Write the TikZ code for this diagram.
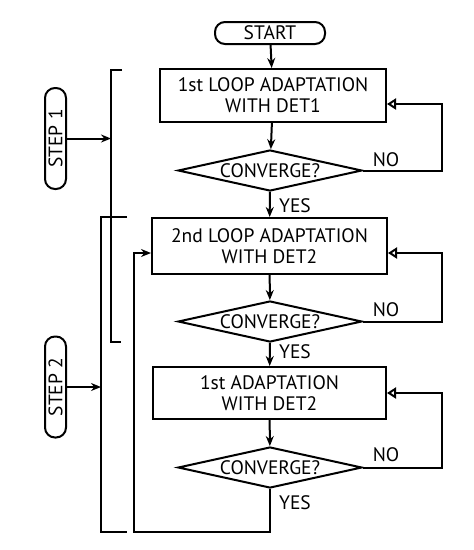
\documentclass[tikz,border=0pt]{standalone}
\usepackage{fontspec}
\setmainfont{PT Sans}
\usetikzlibrary{shapes.geometric,arrows.meta}
\begin{document}
\begin{tikzpicture}[x=1pt,y=-1pt,
  line width=2pt,
  every node/.style={font=\fontsize{19.5}{21}\selectfont},
  box/.style={draw,rectangle,inner sep=0pt,align=center},
  dia/.style={draw,diamond,aspect=4.5,inner sep=0pt,minimum width=184pt,minimum height=41pt},
  pill/.style={draw,rectangle,rounded corners=10pt,inner sep=0pt},
  lbl/.style={inner sep=0pt},
  arr/.style={-{Stealth[length=10pt,width=8pt]}},
  oarr/.style={-{Triangle[open,length=9pt,width=11pt]}}
]
\useasboundingbox (0,0) rectangle (474,550);
\node[pill,minimum width=110pt,minimum height=22pt] (start) at (270,33) {START};
\node[box,minimum width=226pt,minimum height=53pt] (b1) at (273,95.5) {1st LOOP ADAPTATION\\WITH DET1};
\node[dia] (d1) at (270,170.5) {CONVERGE?};
\node[box,minimum width=235pt,minimum height=56pt] (b2) at (269.5,246) {2nd LOOP ADAPTATION\\WITH DET2};
\node[dia] (d2) at (270,321.5) {CONVERGE?};
\node[box,minimum width=233pt,minimum height=52pt] (b3) at (269.5,393) {1st ADAPTATION\\WITH DET2};
\node[dia] (d3) at (270,467.5) {CONVERGE?};

\node[pill,rotate=90,minimum width=101pt,minimum height=21pt] (s1) at (55.5,138.5) {STEP 1};
\node[pill,rotate=90,minimum width=101pt,minimum height=21pt] (s2) at (55.5,387) {STEP 2};

\node[lbl] (no1) at (386,159.5) {NO};
\node[lbl] (no2) at (386,310) {NO};
\node[lbl] (no3) at (386,455) {NO};
\node[lbl] (yes1) at (295,206) {YES};
\node[lbl] (yes2) at (295,352) {YES};
\node[lbl] (yes3) at (295,503) {YES};

% main flow
\draw[arr] (start) -- (b1);
\draw[arr] (b1) -- (d1);
\draw[arr] (d1) -- (b2);
\draw[arr] (b2) -- (d2);
\draw[arr] (d2) -- (b3);
\draw[arr] (b3) -- (d3);

% NO loops
\coordinate (c1) at (442,104);
\coordinate (c2) at (442,253);
\coordinate (c3) at (442,393);
\draw[oarr] (d1.east) -| (c1) -- (b1.east |- c1);
\draw[oarr] (d2.east) -| (c2) -- (b2.east |- c2);
\draw[oarr] (d3.east) -| (c3) -- (b3.east |- c3);

% YES return loop
\coordinate (r1) at (270,532);
\coordinate (r2) at (134,532);
\coordinate (r3) at (134,253);
\draw[arr] (d3.south) -- (r1) -- (r2) -- (r3) -- (b2.west |- r3);

% brackets
\coordinate (k1a) at (122,70);
\coordinate (k1b) at (111,70);
\coordinate (k1c) at (111,342);
\coordinate (k1d) at (121,342);
\draw (k1a) -- (k1b) -- (k1c) -- (k1d);
\coordinate (k2a) at (127,217);
\coordinate (k2b) at (101,217);
\coordinate (k2c) at (101,532);
\coordinate (k2d) at (127,532);
\draw (k2a) -- (k2b) -- (k2c) -- (k2d);

\draw[arr] (s1.south) -- (k1b |- s1.south);
\draw[arr] (s2.south) -- (k2b |- s2.south);
\end{tikzpicture}
\end{document}
